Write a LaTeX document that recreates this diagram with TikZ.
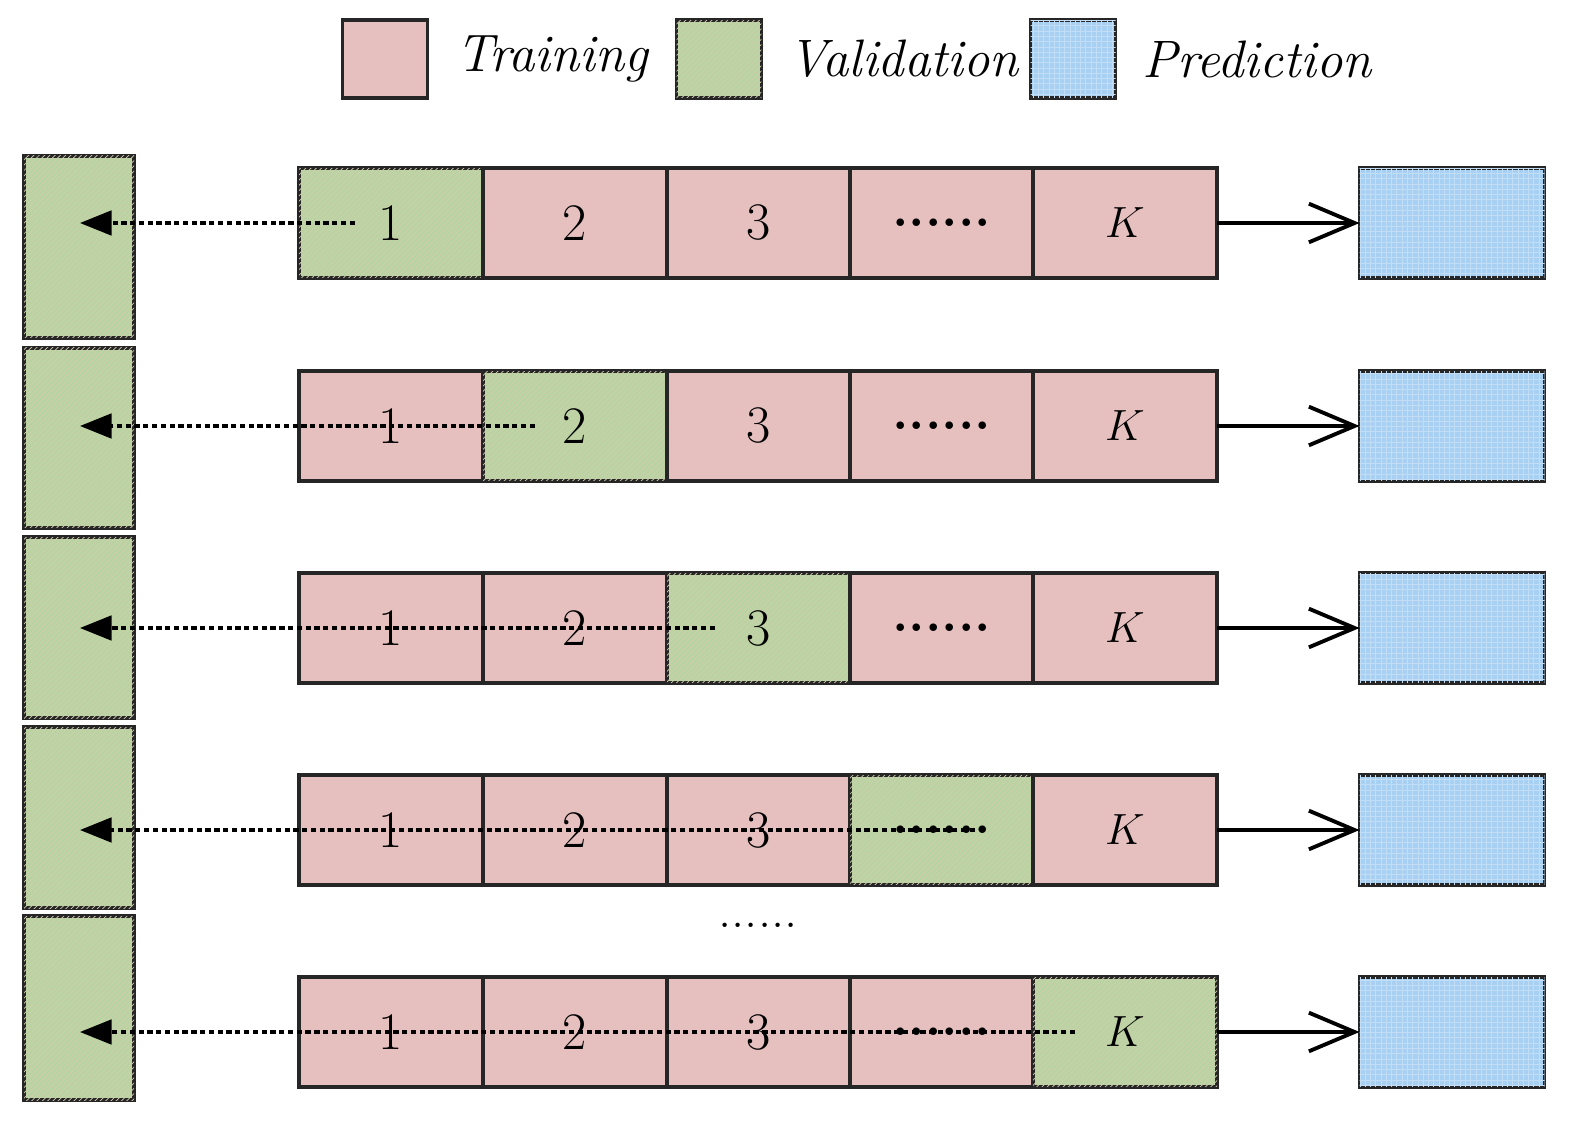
\documentclass[tikz,border=0pt]{standalone}
\usetikzlibrary{patterns,arrows.meta}
\definecolor{tr}{HTML}{E6BFBF}
\definecolor{va}{HTML}{B8D4A2}
\definecolor{pr}{HTML}{A8D0F2}
\begin{document}
\begin{tikzpicture}[x=0.02cm,y=-0.02cm,
  box/.style={draw=black!85,line width=1.8pt,inner sep=0pt,outer sep=0pt},
  T/.style={box,fill=tr},
  V/.style={box,fill=va,postaction={pattern=north east lines,pattern color=va!60!pink}},
  P/.style={box,fill=pr,postaction={pattern=grid,pattern color=pr!70!white}},
  lbl/.style={font=\fontsize{30}{36}\selectfont},
  leg/.style={font=\fontsize{30}{36}\selectfont\itshape,anchor=west},
  vline/.style={densely dashed,line width=1.8pt,-{Triangle[length=18pt,width=14pt]}},
  outarrow/.style={line width=2.2pt,-{Straight Barb[open,length=26pt,width=22pt,line width=2.2pt]}}]
\useasboundingbox (0,0) rectangle (1593,1138);
% legend
\node[T,minimum width=1.7cm,minimum height=1.56cm] (lt) at (385,59) {};
\node[leg] (ltt) at (450,59) {Training};
\node[V,minimum width=1.7cm,minimum height=1.56cm] (lv) at (719,59) {};
\node[leg] (lvt) at (782,59) {Validation};
\node[P,minimum width=1.7cm,minimum height=1.56cm] (lp) at (1073,59) {};
\node[leg] (lpt) at (1136,59) {Prediction};
% left boxes
\foreach \i/\a/\b in {1/156/338,2/348/528,3/537/718,4/727/908,5/916/1100}{
  \draw[V] (24,\a) rectangle (134,\b);
  \coordinate (L\i) at (80,{(\a+\b)/2});
}
\def\xs{{299,483,667,850,1033,1217}}
\foreach \r/\y/\v/\s in {1/223/1/355,2/426/2/535,3/628/3/715,4/830/4/975,5/1032/5/1075}{
  \foreach \c/\t in {1/1,2/2,3/3,4/{\textbf{......}},5/$K$}{
    \pgfmathsetmacro\xa{\xs[\c-1]}\pgfmathsetmacro\xb{\xs[\c]}
    \ifnum\c=\v
      \node[V,minimum width={(\xb-\xa)*0.02cm},minimum height=2.2cm,lbl] (c\r\c) at ({(\xa+\xb)/2},\y) {\t};
    \else
      \node[T,minimum width={(\xb-\xa)*0.02cm},minimum height=2.2cm,lbl] (c\r\c) at ({(\xa+\xb)/2},\y) {\t};
    \fi
  }
  \node[P,minimum width=3.7cm,minimum height=2.2cm] (p\r) at (1452,\y) {};
  \coordinate (s\r) at (\s,\y);
  \draw[vline] (s\r) -- (L\r|-s\r);
  \draw[outarrow] (c\r5.east) -- (p\r.west);
}
\node[lbl] (dots) at (758,925) {......};
\end{tikzpicture}
\end{document}
